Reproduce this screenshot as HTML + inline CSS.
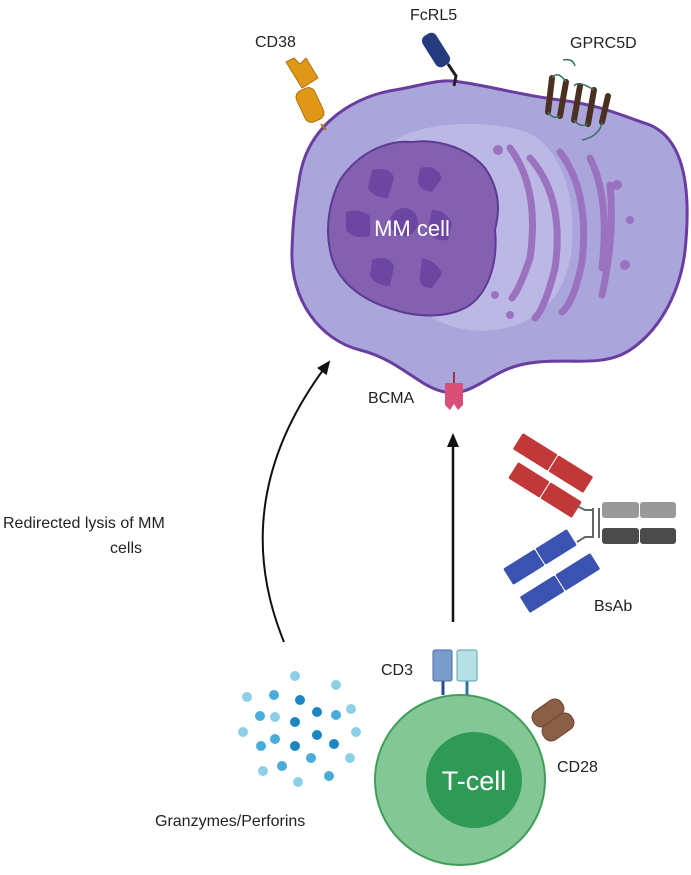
<!DOCTYPE html><html><head><style>body{margin:0;background:#fff}svg{display:block}text{font-family:"Liberation Sans",sans-serif;fill:#222}</style></head><body>
<svg width="691" height="875" viewBox="0 0 691 875">
<defs><marker id="ah" markerUnits="userSpaceOnUse" markerWidth="14" markerHeight="14" refX="7" refY="7" orient="auto"><path d="M0,1L14,7L0,13z" fill="#111"/></marker></defs>
<!-- MM cell -->
<path d="M300,175 C310,120 360,95 395,90 C420,86 440,78 460,82 C490,86 520,95 560,100 C600,105 620,115 650,125 C685,140 690,190 686,240 C683,290 660,330 630,350 C600,370 560,355 520,365 C490,372 470,398 445,392 C420,388 400,360 360,350 C320,340 290,300 292,250 C293,215 296,200 300,175Z" fill="#aaa5db" stroke="#6a3ea0" stroke-width="3"/>
<path d="M395,140 C420,125 470,118 520,130 C560,140 580,200 570,260 C560,310 520,335 470,330 C430,325 400,300 395,260Z" fill="#bcb8e6"/>
<path d="M412,142 C440,138 470,150 485,168 C500,190 500,210 495,230 C498,260 490,290 470,305 C450,318 420,318 395,310 C360,300 335,280 330,250 C325,225 330,200 340,180 C360,150 390,140 412,142Z" fill="#8360b0" stroke="#5e3a94" stroke-width="2"/>
<g fill="#6c46a0"><path d="M372,170 q18,-4 22,8 l-6,20 q-14,0 -20,-10z"/><path d="M420,168 q16,-4 22,10 l-10,14 q-14,-2 -14,-12z"/><path d="M346,212 q14,-4 24,4 l0,20 q-16,4 -24,-6z"/><path d="M432,210 q14,0 20,14 l-4,16 q-14,2 -20,-10z"/><path d="M372,260 q16,-6 22,6 l-4,20 q-14,0 -20,-10z"/><path d="M422,258 q16,4 20,16 l-10,14 q-14,0 -12,-12z"/><circle cx="404" cy="222" r="14"/></g>
<g stroke="#9a72c0" stroke-width="7" fill="none" stroke-linecap="round"><path d="M510,148 q30,40 20,110 q-10,30 -18,40"/><path d="M530,158 q35,40 25,110 q-10,40 -20,50"/><path d="M560,152 q30,40 22,110 q-8,40 -20,50"/><path d="M590,158 q20,40 12,110"/><path d="M610,185 q5,50 -8,110"/></g>
<g fill="#9a72c0"><circle cx="498" cy="150" r="5"/><circle cx="617" cy="185" r="5"/><circle cx="630" cy="220" r="4"/><circle cx="625" cy="265" r="5"/><circle cx="510" cy="315" r="4"/><circle cx="495" cy="295" r="4"/></g>
<text x="412" y="236" font-size="22" fill="#fff" style="fill:#fff" text-anchor="middle">MM cell</text>
<!-- receptors -->
<text x="255" y="47" font-size="16">CD38</text>
<g fill="#e09617" stroke="#b07010"><path d="M286,62 l8,-4 l6,6 l6,-6 l12,20 l-16,10z"/><rect x="300" y="88" width="20" height="34" rx="7" transform="rotate(-25 310 105)"/></g>
<line x1="321" y1="124" x2="326" y2="130" stroke="#b07010" stroke-width="2"/>
<text x="410" y="20" font-size="16">FcRL5</text>
<rect x="428" y="32" width="16" height="36" rx="6" fill="#253b7e" transform="rotate(-32 436 50)"/>
<path d="M448,64 l8,12 l-2,10" stroke="#222" stroke-width="3" fill="none"/>
<text x="570" y="48" font-size="16">GPRC5D</text>
<g stroke="#4a3020" stroke-width="6" stroke-linecap="round"><line x1="552" y1="78" x2="548" y2="112"/><line x1="566" y1="82" x2="560" y2="116"/><line x1="580" y1="86" x2="574" y2="120"/><line x1="594" y1="90" x2="588" y2="124"/><line x1="608" y1="96" x2="602" y2="122"/></g>
<path d="M563,60 q10,-2 12,6 M552,78 q6,-8 14,4 M574,86 q4,-6 20,4 M548,112 q5,8 12,4 M574,120 q6,8 14,4 M602,122 q-2,14 -20,18" stroke="#3a7060" stroke-width="1.5" fill="none"/>
<text x="368" y="403" font-size="16">BCMA</text>
<path d="M445,383 h18 v22 l-5,5 l-4,-6 l-4,6 l-5,-5z" fill="#d94f77"/><line x1="454" y1="372" x2="454" y2="383" stroke="#a03050" stroke-width="2"/>
<!-- arrows -->
<line x1="453" y1="622" x2="453" y2="440" stroke="#111" stroke-width="2.5" marker-end="url(#ah)"/>
<path d="M284,642 Q226,500 326,366" stroke="#111" stroke-width="2" fill="none" marker-end="url(#ah)"/>
<text x="3" y="528" font-size="16">Redirected lysis of MM</text>
<text x="110" y="553" font-size="16">cells</text>
<!-- BsAb -->
<g fill="#c03838" stroke="#fff" stroke-width="1">
<g transform="translate(553,463) rotate(32)"><rect x="-42" y="-10" width="42" height="20" rx="2"/><rect x="0" y="-10" width="42" height="20" rx="2"/></g>
<g transform="translate(545,490) rotate(32)"><rect x="-38" y="-10" width="38" height="20" rx="2"/><rect x="0" y="-10" width="38" height="20" rx="2"/></g>
</g>
<g fill="#3a52b0" stroke="#fff" stroke-width="1">
<g transform="translate(540,557) rotate(-32)"><rect x="-38" y="-10" width="38" height="20" rx="2"/><rect x="0" y="-10" width="38" height="20" rx="2"/></g>
<g transform="translate(560,583) rotate(-32)"><rect x="-42" y="-10" width="42" height="20" rx="2"/><rect x="0" y="-10" width="42" height="20" rx="2"/></g>
</g>
<path d="M577,506 l8,4 h8 M577,542 l8,-5 h8 M593,508 v30 M599,508 v30" stroke="#666" stroke-width="2" fill="none"/>
<rect x="602" y="502" width="37" height="16" rx="3" fill="#999"/><rect x="640" y="502" width="36" height="16" rx="3" fill="#999"/>
<rect x="602" y="528" width="37" height="16" rx="3" fill="#4b4b4b"/><rect x="640" y="528" width="36" height="16" rx="3" fill="#4b4b4b"/>
<text x="594" y="611" font-size="16">BsAb</text>
<!-- granules -->
<g fill="#8ccfe6"><circle cx="295" cy="676" r="5"/><circle cx="336" cy="685" r="5"/><circle cx="247" cy="697" r="5"/><circle cx="351" cy="709" r="5"/><circle cx="275" cy="717" r="5"/><circle cx="243" cy="732" r="5"/><circle cx="356" cy="732" r="5"/><circle cx="350" cy="758" r="5"/><circle cx="263" cy="771" r="5"/><circle cx="298" cy="782" r="5"/></g>
<g fill="#4aacd8"><circle cx="274" cy="695" r="5"/><circle cx="260" cy="716" r="5"/><circle cx="336" cy="715" r="5"/><circle cx="275" cy="739" r="5"/><circle cx="261" cy="746" r="5"/><circle cx="311" cy="758" r="5"/><circle cx="282" cy="766" r="5"/><circle cx="329" cy="776" r="5"/></g>
<g fill="#1b86c0"><circle cx="300" cy="700" r="5"/><circle cx="317" cy="712" r="5"/><circle cx="295" cy="722" r="5"/><circle cx="317" cy="735" r="5"/><circle cx="295" cy="746" r="5"/><circle cx="334" cy="744" r="5"/></g>
<text x="155" y="826" font-size="16">Granzymes/Perforins</text>
<!-- T cell -->
<circle cx="460" cy="780" r="85" fill="#84c796" stroke="#3f9e57" stroke-width="2"/>
<circle cx="474" cy="780" r="48" fill="#2f9a55"/>
<text x="474" y="790" font-size="27" text-anchor="middle" style="fill:#fff">T-cell</text>
<line x1="443" y1="680" x2="443" y2="695" stroke="#2a4a90" stroke-width="3"/><line x1="467" y1="680" x2="467" y2="695" stroke="#2a7aa0" stroke-width="3"/>
<rect x="433" y="650" width="19" height="31" rx="2" fill="#7a9ccc" stroke="#4a6aa8"/>
<rect x="457" y="650" width="20" height="31" rx="2" fill="#b7e0e6" stroke="#5aa0b0"/>
<text x="381" y="675" font-size="16">CD3</text>
<g fill="#8a5f45" stroke="#6a4530"><rect x="531" y="704" width="34" height="18" rx="8" transform="rotate(-35 548 713)"/><rect x="541" y="718" width="34" height="18" rx="8" transform="rotate(-35 558 727)"/></g>
<text x="557" y="772" font-size="16">CD28</text>
</svg></body></html>
